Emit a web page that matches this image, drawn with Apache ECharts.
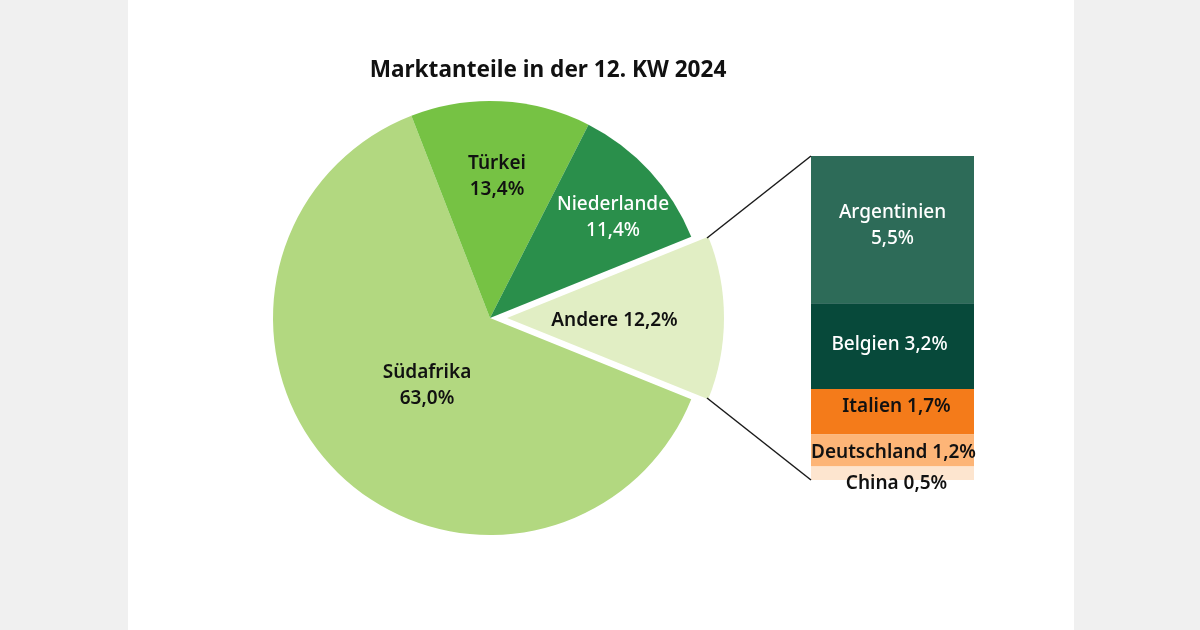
<!DOCTYPE html>
<html style="height:100%">
<head>
  <meta charset="UTF-8">
  <title>Marktanteile in der 12. KW 2024</title>
  <script src="https://cdn.jsdelivr.net/npm/echarts/dist/echarts.min.js"></script>
  <style>
    html, body { margin: 0; padding: 0; background: #f0f0f0; }
    #chart { width: 1200px; height: 630px; }
  </style>
</head>
<body>
<div id="chart"></div>
<script>
  // pie data, clockwise starting with the pulled out slice
  var pieNames = ['Andere', 'Südafrika', 'Türkei', 'Niederlande'];
  var pieValues = [12.2, 63.0, 13.4, 11.4];

  // breakdown of "Andere"
  var stackNames = ['Argentinien', 'Belgien', 'Italien', 'Deutschland', 'China'];
  var stackValues = [5.5, 3.2, 1.7, 1.2, 0.5];

  // styles
  var pieColors = ['#e1eec4', '#b2d880', '#76c244', '#2a8f4b'];
  var pieTextColors = ['#111', '#111', '#111', '#fff'];
  var stackColors = ['#2d6b58', '#07493a', '#f47b1a', '#fdb577', '#fde5cf'];
  var stackTextColors = ['#fff', '#fff', '#111', '#111', '#111'];
  var FONT = '"Noto Sans", sans-serif';

  function fmt(v) { return v.toFixed(1).replace('.', ',') + '%'; }

  // label spots, pixels on the page (the pulled out slice ignores labelLayout, it gets an offset)
  var pieLabelPos = [null, [427, 386], [497, 177], [613, 218]];
  var andereLabelOffset = [-4, 3];
  var pieLabelText = ['{n} {v}', '{n}\n{v}', '{n}\n{v}', '{n}\n{v}'];
  var stackLabelOffset = [[0, -4], [-3, -2], [4, -5], [1, 2], [4, 10]];
  var stackLabelText = ['{n}\n{v}', '{n} {v}', '{n} {v}', '{n} {v}', '{n} {v}'];

  var cx = 490, cy = 318, r = 217;
  var barLeft = 811, barTop = 156, barWidth = 163, barHeight = 324;

  var stackSeries = stackNames.map(function(name, i) {
    return {
      name: name,
      type: 'bar',
      stack: 'andere',
      barWidth: '100%',
      data: [stackValues[i]],
      itemStyle: { color: stackColors[i] },
      label: {
        show: true,
        position: 'inside',
        offset: stackLabelOffset[i],
        color: stackTextColors[i],
        fontFamily: FONT,
        fontSize: 19,
        fontWeight: i < 2 ? 500 : 600,
        lineHeight: 26,
        formatter: stackLabelText[i].replace('{n}', name).replace('{v}', fmt(stackValues[i]))
      }
    };
  });

  var pieSeries = {
    type: 'pie',
    center: [cx, cy],
    radius: [0, r],
    startAngle: 21.96,
    clockwise: true,
    animation: false,
    selectedMode: 'single',
    selectedOffset: 17,
    data: pieNames.map(function(name, i) {
      var label = { color: pieTextColors[i], fontWeight: i === 3 ? 500 : 600 };
      if (i === 0) label.offset = andereLabelOffset;
      return {
        name: name,
        value: pieValues[i],
        selected: i === 0,
        itemStyle: { color: pieColors[i] },
        label: label,
        select: { label: label }
      };
    }),
    label: {
      show: true,
      position: 'inside',
      fontFamily: FONT,
      fontSize: 19,
      lineHeight: 26,
      formatter: function(p) {
        return pieLabelText[p.dataIndex].replace('{n}', p.name).replace('{v}', fmt(p.value));
      }
    },
    labelLine: { show: false },
    labelLayout: function(p) {
      var pos = pieLabelPos[p.dataIndex];
      if (!pos) return {};
      return { x: pos[0], y: pos[1], align: 'center', verticalAlign: 'middle' };
    }
  };

  var chart = echarts.init(document.getElementById('chart'));
  chart.setOption({
    animation: false,
    backgroundColor: '#f0f0f0',
    title: {
      text: 'Marktanteile in der 12. KW 2024',
      left: 543,
      top: 54,
      textAlign: 'center',
      textStyle: { fontFamily: FONT, fontSize: 22.6, fontWeight: 700, color: '#111' }
    },
    grid: { left: barLeft, top: barTop, width: barWidth, height: barHeight },
    xAxis: { type: 'category', data: ['Andere'], show: false },
    yAxis: { type: 'value', min: 0, max: 12.1, inverse: true, show: false },
    graphic: [
      { type: 'rect', z: -10, silent: true, shape: { x: 128, y: 0, width: 946, height: 630 }, style: { fill: '#fff' } },
      { type: 'line', z: 10, shape: { x1: 707, y1: 238, x2: barLeft, y2: barTop }, style: { stroke: '#1a1a1a', lineWidth: 1.5 } },
      { type: 'line', z: 10, shape: { x1: 707, y1: 398, x2: barLeft, y2: barTop + barHeight }, style: { stroke: '#1a1a1a', lineWidth: 1.5 } }
    ],
    series: [pieSeries].concat(stackSeries)
  });
</script>
</body>
</html>
